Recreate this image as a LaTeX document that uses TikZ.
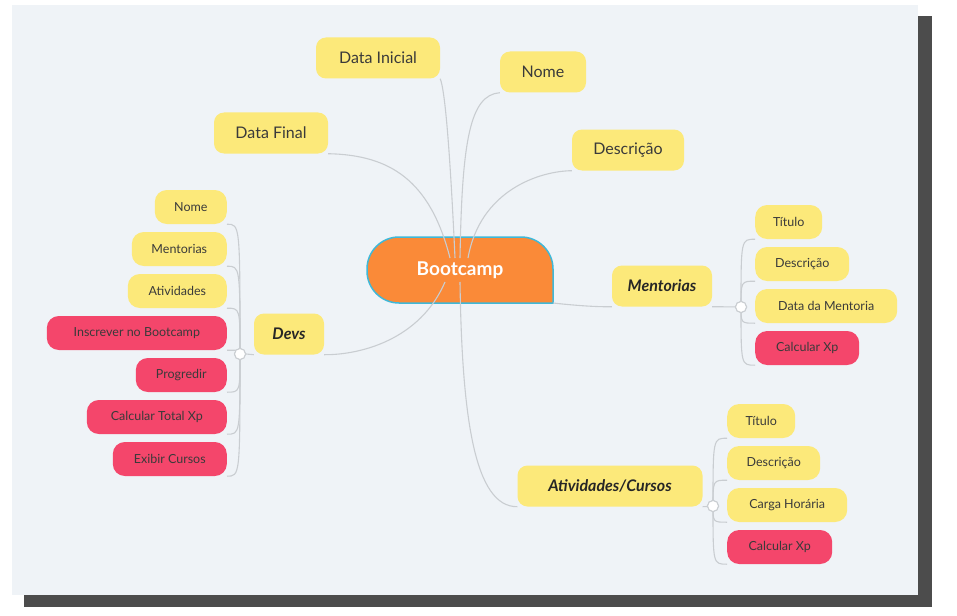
\documentclass[tikz,border=0pt]{standalone}
\usepackage{fontspec}
\setmainfont{Lato}
\begin{document}
\begin{tikzpicture}[x=1pt,y=-1pt,
  yel/.style={fill=ylw,rounded corners=10pt,inner sep=0pt,text=txt},
  big/.style={yel,minimum height=41pt,font=\fontsize{16}{18}\selectfont},
  main/.style={yel,minimum height=41pt,font=\fontsize{16}{18}\selectfont\bfseries\itshape,text=black!85},
  sm/.style={yel,minimum height=34pt,font=\fontsize{12.5}{14}\selectfont,rounded corners=12pt},
  red/.style={sm,fill=rd},
  ln/.style={draw=lin,line width=1.1pt},
  jn/.style={circle,draw=lin,fill=white,line width=1pt,minimum size=11pt,inner sep=0pt}]
\definecolor{ylw}{HTML}{FCE97A}
\definecolor{rd}{HTML}{F4466B}
\definecolor{txt}{HTML}{3A3A3A}
\definecolor{lin}{HTML}{C9CDD1}
\definecolor{bg}{HTML}{EFF3F7}
\definecolor{org}{HTML}{FA8A38}
\definecolor{cy}{HTML}{3FB8D8}
\useasboundingbox (0,0) rectangle (957,615);
\fill[white] (0,0) rectangle (957,615);
\fill[black!70] (24,16) rectangle (932,607);
\fill[bg] (12,5) rectangle (918,595);
% Bootcamp shape
\draw[fill=org,draw=cy,line width=1.5pt,rounded corners=32pt] (553,270) -- (553,237) -- (367,237) -- (367,303) [sharp corners] -- (553,303) -- cycle;
\node[text=white,font=\fontsize{19}{22}\selectfont\bfseries] (boot) at (460,270) {Bootcamp};
% nodes
\node[big,minimum width=124pt] (di) at (378,58) {Data Inicial};
\node[big,minimum width=86pt] (nm) at (543,72) {Nome};
\node[big,minimum width=114pt] (df) at (271,133) {Data Final};
\node[big,minimum width=112pt] (ds) at (628,150) {Descrição};
\node[main,minimum width=70pt] (dv) at (289,334) {Devs};
\node[main,minimum width=100pt] (mt) at (662,286) {Mentorias};
\node[main,minimum width=185pt] (ac) at (610,486) {Atividades/Cursos};
% devs children
\node[sm,minimum width=72pt,anchor=east] (d1) at (227,207) {Nome};
\node[sm,minimum width=95pt,anchor=east] (d2) at (227,249) {Mentorias};
\node[sm,minimum width=99pt,anchor=east] (d3) at (227,291) {Atividades};
\node[red,minimum width=180pt,anchor=east] (d4) at (227,333) {Inscrever no Bootcamp};
\node[red,minimum width=91pt,anchor=east] (d5) at (227,375) {Progredir};
\node[red,minimum width=140pt,anchor=east] (d6) at (227,417) {Calcular Total Xp};
\node[red,minimum width=114pt,anchor=east] (d7) at (227,459) {Exibir Cursos};
% mentorias children
\node[sm,minimum width=67pt,anchor=west] (m1) at (755,222) {Título};
\node[sm,minimum width=94pt,anchor=west] (m2) at (755,264) {Descrição};
\node[sm,minimum width=142pt,anchor=west] (m3) at (755,306) {Data da Mentoria};
\node[red,minimum width=104pt,anchor=west] (m4) at (755,348) {Calcular Xp};
% atividades children
\node[sm,minimum width=68pt,anchor=west] (a1) at (727,421) {Título};
\node[sm,minimum width=93pt,anchor=west] (a2) at (727,463) {Descrição};
\node[sm,minimum width=120pt,anchor=west] (a3) at (727,505) {Carga Horária};
\node[red,minimum width=105pt,anchor=west] (a4) at (727,547) {Calcular Xp};
% connectors
\draw[ln] ([xshift=-5pt]boot.north) .. controls (450,150) and (445,90) .. (di.south east);
\draw[ln] (boot.north) .. controls (462,140) and (470,95) .. (nm.south west);
\draw[ln] ([xshift=-10pt]boot.north) .. controls (430,180) and (390,155) .. (df.south east);
\draw[ln] ([xshift=8pt]boot.north) .. controls (480,190) and (540,171) .. (ds.south west);
\draw[ln] ([xshift=-15pt]boot.south) .. controls (420,340) and (360,355) .. (dv.south east);
\draw[ln] (553,303) .. controls (580,306) and (600,307) .. (mt.south west);
\draw[ln] (boot.south) .. controls (462,420) and (475,507) .. (ac.south west);
\node[jn] (jd) at (240,354) {};
\node[jn] (jm) at (741,307) {};
\node[jn] (ja) at (713,506) {};
\draw[ln] (dv.south west) -- (jd.east);
\draw[ln] (mt.south east) -- (jm.east);
\draw[ln] (ac.south east) -- (ja.east);
\foreach \c in {d1,d2,d3,d4,d5,d6,d7}{
  \draw[ln] (jd.center) .. controls (jd |- \c.south east) .. (\c.south east);
}
\foreach \c in {m1,m2,m3,m4}{\draw[ln] (jm.center) .. controls (jm |- \c.south west) .. (\c.south west);}
\foreach \c in {a1,a2,a3,a4}{\draw[ln] (ja.center) .. controls (ja |- \c.south west) .. (\c.south west);}
\node[jn] at (240,354) {};
\node[jn] at (741,307) {};
\node[jn] at (713,506) {};
\end{tikzpicture}
\end{document}
